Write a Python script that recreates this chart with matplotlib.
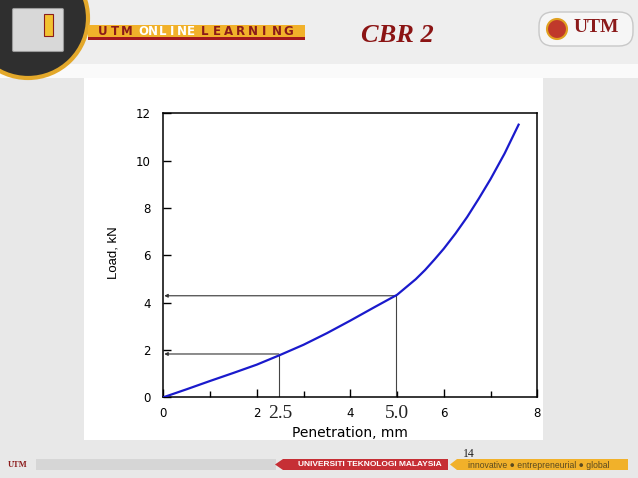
import numpy as np
import matplotlib.pyplot as plt
from matplotlib.patches import Rectangle, Circle, Polygon, FancyBboxPatch

# curve (penetration mm, load kN)
penetration = [0, 0.5, 1.0, 1.5, 2.0, 2.5, 3.0, 3.5, 4.0, 4.5, 5.0, 5.2, 5.4, 5.6, 5.8,
               6.0, 6.25, 6.5, 6.75, 7.0, 7.3, 7.6]
load = [0, 0.34, 0.69, 1.03, 1.38, 1.79, 2.22, 2.71, 3.24, 3.79, 4.33, 4.66, 4.99, 5.38, 5.82,
        6.28, 6.92, 7.62, 8.40, 9.22, 10.30, 11.52]

# reading lines at 2.5 and 5.0 mm
read_x = [2.47, 4.97]
read_y = [1.83, 4.29]
read_labels = ['2.5', '5.0']

x_ticks = [0, 2, 4, 6, 8]
x_minor = [1, 3, 5, 7]
y_ticks = [0, 2, 4, 6, 8, 10, 12]

W, H = 638, 478
fig = plt.figure(figsize=(W / 100, H / 100), dpi=100)

# ---- slide background (pixel coords) ----
bg = fig.add_axes([0, 0, 1, 1], zorder=0)
bg.set_xlim(0, W)
bg.set_ylim(H, 0)
bg.axis('off')
bg.add_patch(Rectangle((0, 0), W, H, fc='#e8e8e8', ec='none'))
bg.add_patch(Rectangle((0, 0), W, 66, fc='#eeeeee', ec='none'))
bg.add_patch(Rectangle((0, 64), W, 14, fc='#fafafa', ec='none'))
bg.add_patch(Rectangle((84, 78), 459, 362, fc='white', ec='none'))

# header: round badge, banner, title, logo
bg.add_patch(Circle((28, 18), 60, fc='#2f2f2f', ec='#e3a82a', lw=3))
bg.add_patch(FancyBboxPatch((14, 10), 48, 40, boxstyle='round,pad=1.5', fc='#d8d8d8', ec='#9a9a9a', lw=0.8))
bg.add_patch(Rectangle((44, 14), 9, 22, fc='#f2c230', ec='#8a1c1c', lw=0.8))
bg.add_patch(Rectangle((88, 25), 217, 12, fc='#f1b12a', ec='none'))
bg.add_patch(Rectangle((88, 37), 217, 3, fc='#a3191c', ec='none'))
banner_words = [('UTM', '#8b1a1a', 103, 12.0), ('ONLINE', 'white', 143, 9.6),
                ('LEARNING', '#8b1a1a', 205, 11.9)]
for word, col, x0, step in banner_words:
    for k, ch in enumerate(word):
        bg.text(x0 + k * step, 31.5, ch, color=col, fontsize=8.5, fontweight='bold',
                ha='center', va='center', family='DejaVu Sans')
bg.text(397.5, 35, 'CBR 2', color='#8b1414', fontsize=19, fontweight='bold', style='italic',
        family='Liberation Serif', ha='center', va='center')
bg.add_patch(FancyBboxPatch((542, 15), 88, 28, boxstyle='round,pad=3,rounding_size=14',
                            fc='#f6f6f6', ec='#c8c8c8', lw=1))
bg.add_patch(Circle((557, 29), 10, fc='#c0392b', ec='#e0a020', lw=1.5))
bg.text(596, 27, 'UTM', color='#8b1a1a', fontsize=14, fontweight='bold', family='Liberation Serif',
        ha='center', va='center')

# footer
bg.add_patch(Rectangle((36, 459), 240, 11, fc='#d6d6d6', ec='none'))
bg.add_patch(Polygon([(275, 464.5), (283, 459), (448, 459), (448, 470), (283, 470)], fc='#c62f35', ec='none'))
bg.add_patch(Polygon([(450, 464.5), (457, 459), (628, 459), (628, 470), (457, 470)], fc='#f1b12a', ec='none'))
bg.text(370, 465, 'UNIVERSITI TEKNOLOGI MALAYSIA', color='white', fontsize=6, fontweight='bold',
        family='Liberation Sans', ha='center', va='center')
bg.text(468, 465, 'innovative \u25cf entrepreneurial \u25cf global', color='#5a4a20', fontsize=6.2,
        family='Liberation Sans', ha='left', va='center')
bg.text(469, 454, '14', color='#222222', fontsize=8.5, family='Liberation Serif', ha='center', va='center')
bg.text(8, 465, 'UTM', color='#8b1a1a', fontsize=6, fontweight='bold', family='Liberation Serif', va='center')

# ---- chart ----
ax = fig.add_axes([163.3 / W, 1 - 397.3 / H, 374 / W, 284 / H], zorder=1)
ax.plot(penetration, load, color='#1a1acc', lw=1.6, zorder=3)

for xr, yr in zip(read_x, read_y):
    ax.plot([xr, xr], [0, yr], color='#444444', lw=0.8, zorder=2)
    ax.annotate('', xy=(0.02, yr), xytext=(xr, yr),
                arrowprops=dict(arrowstyle='-|>', color='#333333', lw=0.8, mutation_scale=5,
                                shrinkA=0, shrinkB=0), zorder=2)

for xl, lab in zip([2.5, 5.0], read_labels):
    ax.annotate(lab, xy=(xl, 0), xycoords='data', xytext=(0, -11.5), textcoords='offset points',
                ha='center', va='center', fontsize=14, family='Liberation Serif', color='#222222')

ax.set_xlim(0, 8)
ax.set_ylim(0, 12)
ax.set_xticks(x_ticks)
ax.set_xticks(x_minor, minor=True)
ax.set_yticks(y_ticks)
ax.tick_params(which='both', direction='in', top=False, right=False, labelsize=8.5, colors='black')
ax.tick_params(which='major', length=6, width=1)
ax.tick_params(which='minor', length=4, width=1)
ax.tick_params(axis='x', pad=7)
ax.tick_params(axis='y', pad=9)
for s in ax.spines.values():
    s.set_linewidth(1.1)

ax.set_xlabel('Penetration, mm', fontsize=10, labelpad=4)
fig.text(113.7 / W, 1 - 253 / H, 'Load, kN', rotation=90, ha='center', va='center', fontsize=9.5,
         family='Liberation Sans')

fig.savefig('out.png', dpi=100)
